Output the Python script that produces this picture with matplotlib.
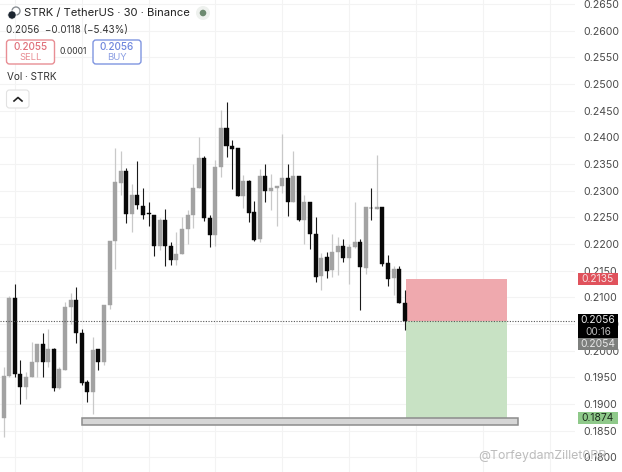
import matplotlib
matplotlib.use("Agg")
import numpy as np
import matplotlib.pyplot as plt
from matplotlib.lines import Line2D
from matplotlib.patches import Rectangle, FancyBboxPatch, Circle

W, H = 622, 472

# velas de 30 min
opens = [.1874,.1953,.2098,.1956,.1932,.1951,.1979,.2012,.1979,.2004,.1930,.1964,.2082,.2096,.2034,.1941,.1922,.2003,.1979,.2085,
         .2206,.2314,.2337,.2256,.2292,.2271,.2258,.2255,.2196,.2246,.2197,.2170,.2181,.2228,.2254,.2305,.2361,.2248,.2217,.2344,
         .2417,.2383,.2380,.2291,.2319,.2260,.2209,.2328,.2299,.2306,.2309,.2323,.2279,.2328,.2246,.2279,.2218,.2140,.2175,.2151,
         .2185,.2196,.2173,.2194,.2203,.2156,.2268,.2266,.2269,.2164,.2136,.2153,.2089]
closes = [.1953,.2098,.1957,.1932,.1950,.1979,.2013,.1979,.2004,.1930,.1965,.2082,.2096,.2034,.1939,.1923,.2001,.1979,.2086,.2206,
          .2316,.2337,.2256,.2292,.2273,.2255,.2256,.2196,.2246,.2196,.2171,.2181,.2228,.2254,.2305,.2361,.2248,.2217,.2344,.2417,
          .2383,.2379,.2291,.2319,.2258,.2208,.2328,.2299,.2306,.2309,.2323,.2279,.2328,.2246,.2279,.2218,.2139,.2174,.2150,.2186,
          .2196,.2173,.2195,.2204,.2157,.2270,.2267,.2269,.2163,.2135,.2153,.2089,.2056]
highs = [.1969,.2103,.2125,.1983,.1960,.2017,.2013,.2034,.2040,.2006,.1969,.2092,.2108,.2119,.2040,.1946,.2026,.2003,.2086,.2206,
         .2380,.2374,.2342,.2312,.2356,.2305,.2279,.2255,.2248,.2265,.2203,.2222,.2250,.2264,.2350,.2400,.2365,.2254,.2358,.2451,
         .2466,.2395,.2381,.2329,.2321,.2281,.2341,.2351,.2331,.2309,.2406,.2350,.2374,.2328,.2292,.2279,.2250,.2183,.2186,.2219,
         .2214,.2209,.2200,.2278,.2209,.2270,.2306,.2367,.2269,.2179,.2158,.2158,.2114]
lows = [.1839,.1951,.1951,.1900,.1910,.1950,.1951,.1951,.1970,.1925,.1929,.1964,.2051,.2015,.1936,.1904,.1881,.1963,.1974,.2079,
        .2153,.2292,.2240,.2223,.2265,.2247,.2233,.2178,.2188,.2158,.2161,.2161,.2181,.2200,.2230,.2305,.2243,.2194,.2197,.2326,
        .2364,.2303,.2290,.2268,.2241,.2206,.2203,.2279,.2263,.2233,.2295,.2253,.2279,.2244,.2201,.2191,.2129,.2114,.2136,.2139,
        .2142,.2167,.2126,.2192,.2076,.2144,.2246,.2266,.2158,.2122,.2104,.2089,.2039]

niveles = [.2650,.2600,.2550,.2500,.2450,.2400,.2350,.2300,.2250,.2200,.2150,.2100,.2050,.2000,.1950,.1900,.1850,.1800]
etiquetas = ["%.4f" % n for n in niveles]

precio = .2056
stop = .2135
objetivo = .1874
soporte = .1860

opens = np.array(opens)
closes = np.array(closes)
highs = np.array(highs)
lows = np.array(lows)
idx = np.arange(len(opens))
sube = closes >= opens

plt.rcParams['font.family'] = ['Inter', 'DejaVu Sans']
fig = plt.figure(figsize=(W/100, H/100), dpi=100)
ax = fig.add_axes([0, 0, 575/W, 1])
ax.set_xlim(-3.7/5.57, (575-3.7)/5.57)
ax.set_ylim(.26576-.0001875*H, .26576)
for s in ax.spines.values():
    s.set_visible(False)
ax.set_axisbelow(True)

ax.set_xticks(np.arange(2, 103, 12))
ax.set_yticks(niveles)
ax.set_yticklabels(etiquetas, fontsize=7.6, color='#4a4a4a')
ax.yaxis.tick_right()
ax.tick_params(length=0, labelbottom=False)
ax.tick_params(axis='y', pad=6)
ax.grid(color='#f3f3f3', lw=0.8)

# zonas de la operacion
ax.axhspan(precio, stop, xmin=406/575, xmax=507/575, color='#efa9ae', lw=0, zorder=1)
ax.axhspan(objetivo, precio, xmin=406/575, xmax=507/575, color='#c8e2c4', lw=0, zorder=1)
ax.add_patch(Rectangle((14.1, soporte), 78.3, objetivo-soporte, fc='#d6d6d6', ec='#8c8c8c', lw=1.1, zorder=1.5))

# velas
ax.vlines(idx[sube], lows[sube], highs[sube], color='#c9c9c9', lw=0.9, zorder=2)
ax.vlines(idx[~sube], lows[~sube], highs[~sube], color='#1a1a1a', lw=0.8, zorder=2)
ax.bar(idx[sube], (closes-opens)[sube], bottom=opens[sube], width=0.72, color='#a2a2a2', ec='#a2a2a2', lw=0.3, zorder=3)
ax.bar(idx[~sube], (closes-opens)[~sube], bottom=opens[~sube], width=0.72, color='#080808', ec='#080808', lw=0.3, zorder=3)

ax.axhline(precio, color='#555555', lw=0.8, ls=(0, (1, 1.4)), zorder=4)

# cajas de precio a la derecha
tr = ax.get_yaxis_transform()
def caja(y0, y1, fc, txt, col, y_txt=None):
    ax.add_patch(Rectangle((578/575, .26576-.0001875*y1), 40/575, .0001875*(y1-y0), transform=tr,
                           fc=fc, ec='none', clip_on=False, zorder=6))
    yt = (y0+y1)/2 if y_txt is None else y_txt
    fig.text(598/W, 1-yt/H, txt, color=col, fontsize=7.4, ha='center', va='center', zorder=7)

caja(273, 285, '#e0525c', '0.2135', '#f6dfe0')
caja(314, 338, '#000000', '0.2056', '#e8e8e8', 320)
fig.text(598/W, 1-332/H, '00:16', color='#bbbbbb', fontsize=7.2, ha='center', va='center', zorder=7)
caja(338, 350, '#7d7f7d', '0.2054', '#e8e8e8')
caja(412, 424, '#8fc98a', '0.1874', '#1c2b1c')

# cabecera
def t(x, y, s, size=8, col='#2a2a2a', ha='left', **kw):
    fig.text(x/W, 1-y/H, s, fontsize=size, color=col, ha=ha, va='center', **kw)

t(24, 13, 'STRK / TetherUS · 30 · Binance', 8.1, '#222222')
t(6, 29.5, '0.2056  −0.0118 (−5.43%)', 7.1, '#333333')
t(30.5, 47, '0.2055', 7.2, '#e0707a', ha='center', fontweight='medium')
t(30.5, 58, 'SELL', 6.8, '#e88e94', ha='center')
t(73.5, 52, '0.0001', 6.2, '#333333', ha='center')
t(117, 47, '0.2056', 7.2, '#6f87dd', ha='center', fontweight='medium')
t(117, 58, 'BUY', 6.8, '#8c9fe3', ha='center')
t(7, 77.5, 'Vol · STRK', 7.2, '#333333')

for x0, x1, y0, y1, ec, lw in [(6.5, 54.5, 40, 64, '#e88e94', 1), (93, 141, 40, 64, '#7f95e0', 1), (6.5, 29, 90, 108, '#e2e2e2', 0.8)]:
    fig.add_artist(FancyBboxPatch((x0, H-y1), x1-x0, y1-y0, boxstyle='round,pad=0,rounding_size=3',
                                  transform=None, fc='white', ec=ec, lw=lw, zorder=3))
# los textos de los botones van encima de las cajas
for txt in fig.texts:
    txt.set_zorder(7)
fig.add_artist(Line2D([14/W, 18/W, 22/W], [1-101/H, 1-97.5/H, 1-101/H], color='#222222', lw=1.2, zorder=5))

# iconos
fig.add_artist(Circle((16, H-11), 4, transform=None, fc='white', ec='#8a8f94', lw=1, zorder=3))
fig.add_artist(Circle((12, H-15), 4.2, transform=None, fc='#1c2530', ec='white', lw=0.6, zorder=4))
fig.add_artist(Circle((203, H-13), 7, transform=None, fc='#eef1ee', ec='none', zorder=3))
fig.add_artist(Circle((203, H-13), 3.3, transform=None, fc='#6d8a70', ec='none', zorder=4))

# marca de agua
t(478, 456, '@TorfeydamZillet0RR', 8.9, '#bcbcbc', zorder=8)

fig.savefig('out.png', dpi=100)
